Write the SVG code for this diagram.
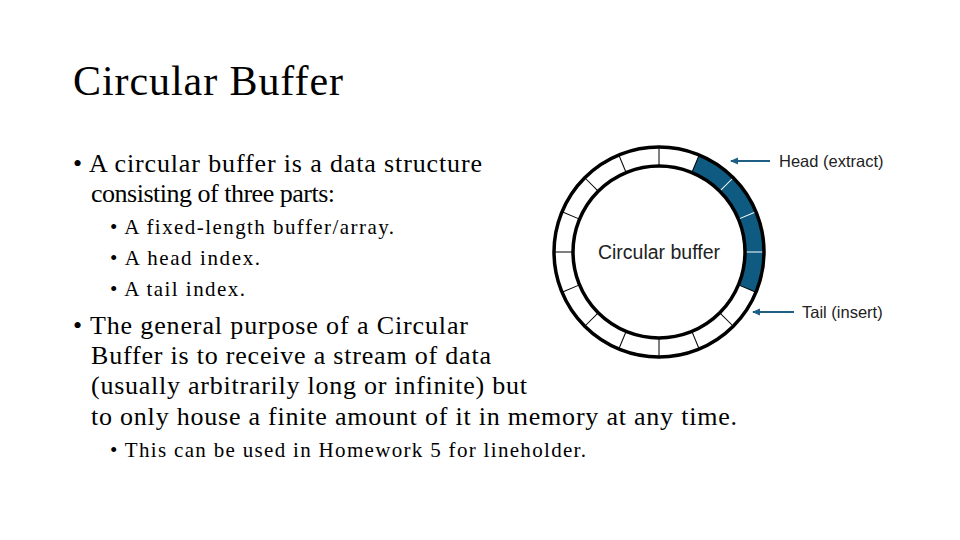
<svg xmlns="http://www.w3.org/2000/svg" width="960" height="540" viewBox="0 0 960 540">
<style>
.s{font-family:"Liberation Serif",serif;fill:#000}
.b{font-size:26px}.c{font-size:21px}
.d{stroke:#000;stroke-width:1}
.w{stroke:#fff;stroke-width:1}
.lb{font-family:"Liberation Sans",Arial,sans-serif;fill:#222}
</style>
<defs><marker id="ah" markerWidth="8" markerHeight="8" refX="7" refY="4" orient="auto" markerUnits="userSpaceOnUse"><path d="M0,0.5 L8,4 L0,7.5 Z" fill="#1f5f86"/></marker></defs>
<rect width="960" height="540" fill="#fff"/>
<text class="s" x="73" y="95" font-size="42" textLength="270" lengthAdjust="spacing">Circular Buffer</text>
<g id="text">
<text class="s b" x="73" y="172" textLength="409" lengthAdjust="spacing">• A circular buffer is a data structure</text>
<text class="s b" x="91" y="202" textLength="244" lengthAdjust="spacing">consisting of three parts:</text>
<text class="s c" x="110" y="234" textLength="284" lengthAdjust="spacing">• A fixed-length buffer/array.</text>
<text class="s c" x="110" y="265" textLength="150" lengthAdjust="spacing">• A head index.</text>
<text class="s c" x="110" y="296" textLength="135" lengthAdjust="spacing">• A tail index.</text>
<text class="s b" x="73" y="334" textLength="395" lengthAdjust="spacing">• The general purpose of a Circular</text>
<text class="s b" x="91" y="364" textLength="400" lengthAdjust="spacing">Buffer is to receive a stream of data</text>
<text class="s b" x="91" y="394" textLength="436" lengthAdjust="spacing">(usually arbitrarily long or infinite) but</text>
<text class="s b" x="91" y="425" textLength="646" lengthAdjust="spacing">to only house a finite amount of it in memory at any time.</text>
<text class="s c" x="110" y="457" textLength="476" lengthAdjust="spacing">• This can be used in Homework 5 for lineholder.</text>
</g>
<g id="buffer">
<path d="M699.2,155 A105,105 0 0 1 756,292.2 L738.5,284.9 A86,86 0 0 0 691.9,172.5 Z" fill="#0e5a80"/>
<g>
<line class="d" x1="659" y1="147" x2="659" y2="166" stroke-width="1.5"/>
<line class="d" x1="659" y1="147" x2="659" y2="166" transform="rotate(22.5 659 252)"/>
<line class="w" x1="659" y1="147" x2="659" y2="166" transform="rotate(45 659 252)"/>
<line class="w" x1="659" y1="147" x2="659" y2="166" transform="rotate(67.5 659 252)"/>
<line class="w" x1="659" y1="147" x2="659" y2="166" transform="rotate(90 659 252)"/>
<line class="d" x1="659" y1="147" x2="659" y2="166" transform="rotate(112.5 659 252)"/>
<line class="d" x1="659" y1="147" x2="659" y2="166" transform="rotate(135 659 252)"/>
<line class="d" x1="659" y1="147" x2="659" y2="166" transform="rotate(157.5 659 252)"/>
<line class="d" x1="659" y1="147" x2="659" y2="166" transform="rotate(180 659 252)" stroke-width="1.5"/>
<line class="d" x1="659" y1="147" x2="659" y2="166" transform="rotate(202.5 659 252)"/>
<line class="d" x1="659" y1="147" x2="659" y2="166" transform="rotate(225 659 252)"/>
<line class="d" x1="659" y1="147" x2="659" y2="166" transform="rotate(247.5 659 252)"/>
<line class="d" x1="659" y1="147" x2="659" y2="166" transform="rotate(270 659 252)"/>
<line class="d" x1="659" y1="147" x2="659" y2="166" transform="rotate(292.5 659 252)"/>
<line class="d" x1="659" y1="147" x2="659" y2="166" transform="rotate(315 659 252)"/>
<line class="d" x1="659" y1="147" x2="659" y2="166" transform="rotate(337.5 659 252)"/>
</g>
<circle cx="659" cy="252" r="105" fill="none" stroke="#000" stroke-width="3.5"/>
<circle cx="659" cy="252" r="86" fill="none" stroke="#000" stroke-width="3.5"/>
<text class="lb" x="659" y="259" font-size="19.5" text-anchor="middle">Circular buffer</text>
</g>
<g id="connectors">
<line x1="770" y1="161" x2="731" y2="161" stroke="#1f5f86" stroke-width="2" marker-end="url(#ah)"/>
<line x1="794" y1="312" x2="753" y2="312" stroke="#1f5f86" stroke-width="2" marker-end="url(#ah)"/>
</g>
<g id="labels">
<text class="lb" x="779" y="167" font-size="16.5">Head (extract)</text>
<text class="lb" x="802" y="318" font-size="16.5">Tail (insert)</text>
</g>
</svg>
